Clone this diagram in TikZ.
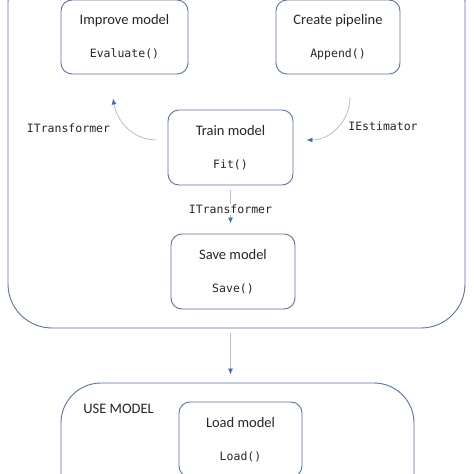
\documentclass[tikz,border=0pt]{standalone}
\usepackage{fontspec}
\setmainfont{Carlito}
\newfontfamily\codefont{DejaVu Sans Mono}
\usetikzlibrary{arrows.meta}

\definecolor{boxline}{HTML}{5A72A0}
\definecolor{flowline}{HTML}{B4C0D4}
\definecolor{flowtip}{HTML}{4A6CB0}
\definecolor{inktext}{HTML}{262626}

\newcommand{\codetext}[1]{{\codefont\fontsize{11.5}{13}\selectfont #1}}

\tikzset{
  phase/.style={draw=boxline, line width=0.9pt, rounded corners=44pt},
  stage/.style={draw=boxline, line width=0.9pt, rounded corners=11pt,
                align=center, text=inktext, font=\fontsize{14.5}{17}\selectfont},
  iface/.style={text=inktext, font=\codefont\fontsize{11.5}{13}\selectfont},
  flow/.style={draw=flowline, line width=0.8pt,
               -{Latex[length=6pt,width=5pt,color=flowtip]}},
}

\begin{document}
\begin{tikzpicture}[x=1pt,y=1pt]
          \useasboundingbox (0,0) rectangle (474,474);
          \clip (0,0) rectangle (474,474);

          % phases
          \node (build) [phase, minimum width=457pt, minimum height=370pt] at (236.5,331) {};
          \node (use)   [phase, rounded corners=40pt, minimum width=353pt, minimum height=160pt] at (237.5,11) {};
          \node (usetitle) [text=inktext, font=\fontsize{14.5}{17}\selectfont] at (118.5,65) {USE MODEL};

          % stages
          \node (improve)  [stage, minimum width=127pt, minimum height=74pt] at (124.5,437)
                {Improve model\\[16pt]\codetext{Evaluate()}};
          \node (pipeline) [stage, minimum width=124pt, minimum height=74pt] at (338,437)
                {Create pipeline\\[16pt]\codetext{Append()}};
          \node (train)    [stage, minimum width=125pt, minimum height=75pt] at (230.5,326.5)
                {Train model\\[16pt]\codetext{Fit()}};
          \node (save)     [stage, minimum width=124pt, minimum height=75pt] at (233,202.5)
                {Save model\\[16pt]\codetext{Save()}};
          \node (load)     [stage, minimum width=123pt, minimum height=75pt] at (240.5,34.5)
                {Load model\\[16pt]\codetext{Load()}};

          % interface labels
          \node (tleft)  [iface] at (68.5,346) {ITransformer};
          \node (est)    [iface] at (383,348)  {IEstimator};

          \draw [flow] ([xshift=-11pt,yshift=7.5pt]train.west)
                       to [out=180,in=-80] ([xshift=-11.5pt,yshift=-24pt]improve.south);
          \draw [flow] ([xshift=12pt,yshift=-23pt]pipeline.south)
                       to [out=-90,in=0] ([xshift=13pt,yshift=7.5pt]train.east);
          \draw [flow, shorten <=5pt, shorten >=10pt] (train.south)
                       -- node (tdown) [iface, fill=white, inner sep=1pt] {ITransformer} (train.south |- save.north);
          \draw [flow, shorten <=5pt, shorten >=8pt] (build.south -| train) -- (use.north -| train);
        \end{tikzpicture}
\end{document}
